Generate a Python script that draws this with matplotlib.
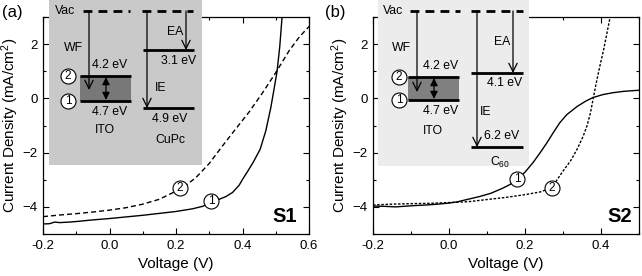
import numpy as np
import matplotlib
matplotlib.use('Agg')
import matplotlib.pyplot as plt

plt.rcParams['font.family'] = ['Liberation Sans', 'DejaVu Sans']
plt.rcParams['mathtext.fontset'] = 'custom'
plt.rcParams['mathtext.rm'] = 'Liberation Sans'
plt.rcParams['mathtext.it'] = 'Liberation Sans:italic'

# S1 (CuPc) J-V curves
s1_v1 = [-0.2, -0.18, -0.165, -0.15, -0.12, -0.1, -0.05, 0.0, 0.05, 0.1, 0.15, 0.2, 0.25, 0.28,
         0.305, 0.33, 0.35, 0.37, 0.39, 0.40, 0.415, 0.432, 0.453, 0.47, 0.485, 0.495, 0.504,
         0.512, 0.519, 0.525]
s1_j1 = [-4.63, -4.62, -4.56, -4.58, -4.56, -4.54, -4.48, -4.43, -4.37, -4.31, -4.24, -4.17, -4.07, -3.98,
         -3.85, -3.72, -3.62, -3.47, -3.2, -2.99, -2.7, -2.36, -1.88, -1.2, -0.35, 0.35, 1.0,
         1.9, 3.0, 3.8]
s1_v2 = [-0.2, -0.15, -0.1, -0.05, 0.0, 0.05, 0.1, 0.15, 0.2, 0.23, 0.26, 0.3, 0.34, 0.38,
         0.42, 0.46, 0.5, 0.54, 0.57, 0.6]
s1_j2 = [-4.36, -4.3, -4.25, -4.19, -4.12, -4.03, -3.9, -3.72, -3.42, -3.2, -2.92, -2.4, -1.75, -1.12,
         -0.5, 0.2, 0.95, 1.75, 2.25, 2.65]

# S2 (C60) J-V curves
s2_v1 = [-0.2, -0.17, -0.14, -0.1, -0.06, -0.03, 0.0, 0.02, 0.05, 0.08, 0.11, 0.14, 0.16, 0.18,
         0.2, 0.221, 0.24, 0.258, 0.275, 0.292, 0.31, 0.337, 0.36, 0.379, 0.405, 0.432, 0.46, 0.5]
s2_j1 = [-3.97, -3.98, -4.0, -3.96, -3.93, -3.9, -3.86, -3.82, -3.72, -3.62, -3.5, -3.32, -3.18, -2.98,
         -2.72, -2.37, -2.0, -1.63, -1.25, -0.89, -0.6, -0.3, -0.1, 0.03, 0.14, 0.21, 0.26, 0.3]
s2_v2 = [-0.2, -0.15, -0.1, -0.05, 0.0, 0.05, 0.1, 0.15, 0.2, 0.24, 0.27, 0.297, 0.32, 0.337,
         0.353, 0.363, 0.372, 0.379, 0.388, 0.397, 0.407, 0.416, 0.424, 0.43]
s2_j2 = [-3.93, -3.9, -3.88, -3.87, -3.84, -3.81, -3.73, -3.65, -3.55, -3.45, -3.3, -2.74, -2.3, -1.88,
         -1.4, -1.02, -0.55, -0.04, 0.6, 1.19, 1.8, 2.43, 3.0, 3.4]

# curve label circles (on the curves)
s1_marks = [(0.305, -3.80, '1'), (0.212, -3.32, '2')]
s2_marks = [(0.18, -2.98, '1'), (0.27, -3.30, '2')]

# energy level labels
s1_levels = ['4.2 eV', '4.7 eV', '3.1 eV', '4.9 eV']
s2_levels = ['4.2 eV', '4.7 eV', '4.1 eV', '6.2 eV']

W, H = 642, 276
fig = plt.figure(figsize=(W / 100, H / 100), dpi=100)


def px_axes(x0, x1, y0, y1):
    return fig.add_axes([x0 / W, 1 - y1 / H, (x1 - x0) / W, (y1 - y0) / H])


def style_main(ax, xmax):
    ax.set_ylim(-5, 3)
    ax.set_xlim(-0.2, xmax)
    ax.set_xticks(np.arange(-0.2, xmax + 0.01, 0.2))
    ax.set_xticks(np.arange(-0.2, xmax + 0.01, 0.1), minor=True)
    ax.set_yticks([-4, -2, 0, 2])
    ax.set_yticks(np.arange(-5, 3.1, 1), minor=True)
    ax.set_xticklabels([f'{t:.1f}' for t in np.arange(-0.2, xmax + 0.01, 0.2)])
    ax.tick_params(which='both', direction='in', top=True, right=True, labelsize=9.5, pad=4)
    ax.tick_params(which='major', length=4, width=0.8)
    ax.tick_params(which='minor', length=2.5, width=0.8)
    for s in ax.spines.values():
        s.set_linewidth(0.9)
    ax.set_xlabel('Voltage (V)', fontsize=11, labelpad=4)
    ax.set_ylabel('Current Density (mA/cm$^2$)', fontsize=11)
    ax.yaxis.set_label_coords(-22 / 266, 0.5)


def mark(ax, x, y, t):
    ax.plot(x, y, 'o', ms=10.8, mfc='white', mec='black', mew=0.8, zorder=4, clip_on=False)
    ax.text(x, y, t, ha='center', va='center', fontsize=8.5, zorder=5)


ax1 = px_axes(43, 309, 17, 234)
ax1.plot(s1_v1, s1_j1, color='black', lw=1.0)
ax1.plot(s1_v2, s1_j2, color='black', lw=1.0, dashes=(3.6, 2.2))
for x, y, t in s1_marks:
    mark(ax1, x, y, t)
style_main(ax1, 0.6)
ax1.text(0.955, 0.08, 'S1', transform=ax1.transAxes, ha='right', va='center',
         fontsize=14.5, fontweight='bold')

ax2 = px_axes(373, 639, 17, 234)
ax2.plot(s2_v1, s2_j1, color='black', lw=1.0)
ax2.plot(s2_v2, s2_j2, color='black', lw=1.0, dashes=(1.8, 1.2))
for x, y, t in s2_marks:
    mark(ax2, x, y, t)
style_main(ax2, 0.5)
ax2.text(0.975, 0.08, 'S2', transform=ax2.transAxes, ha='right', va='center',
         fontsize=14.5, fontweight='bold')

fig.text(2 / W, 1 - 13 / H, '(a)', fontsize=12, ha='left', va='center')
fig.text(325 / W, 1 - 13 / H, '(b)', fontsize=12, ha='left', va='center')


def arrow(ax, x, y0, y1, style='->'):
    ax.annotate('', xy=(x, y1), xytext=(x, y0),
                arrowprops=dict(arrowstyle=style + ',head_length=0.6,head_width=0.3',
                                lw=0.9, color='black', shrinkA=0, shrinkB=0))


def inset(x0, x1, color, band_color, vac_l, vac_r, ito, org, texts, levels, name):
    ia = px_axes(x0, x1, 0, 166 if x1 > 500 else 165)
    ia.set_xlim(0, x1 - x0)
    ia.set_ylim(166 if x1 > 500 else 165, 0)
    ia.set_facecolor(color)
    ia.set_xticks([])
    ia.set_yticks([])
    for s in ia.spines.values():
        s.set_visible(False)
    ia.set_zorder(10)
    fs = 8.8
    ia.text(texts['vac'][0], 11, 'Vac', fontsize=fs, ha='left', va='center')
    for a, b in (vac_l, vac_r):
        ia.plot([a, b], [11, 11], color='black', lw=2.0, dashes=(3.2, 2.2), solid_capstyle='butt')
    # ITO band
    bx0, bx1, by0, by1 = ito['band']
    ia.add_patch(plt.Rectangle((bx0, by0), bx1 - bx0, by1 - by0, fc=band_color, ec='none'))
    ia.plot([bx0, bx1], [by0, by0], color='black', lw=2.0, solid_capstyle='butt')
    ia.plot([bx0, bx1], [by1, by1], color='black', lw=2.0, solid_capstyle='butt')
    arrow(ia, ito['wf_x'], 11, ito['wf_end'])
    ia.annotate('', xy=(ito['dbl_x'], by1 - 1), xytext=(ito['dbl_x'], by0 + 1),
                arrowprops=dict(arrowstyle='<|-|>,head_length=0.45,head_width=0.22',
                                lw=0.9, color='black', shrinkA=0, shrinkB=0))
    for yy, t in ((by0, '2'), (by1, '1')):
        ia.plot(ito['circ_x'], yy, 'o', ms=10.8, mfc='white', mec='black', mew=0.8, zorder=4)
        ia.text(ito['circ_x'], yy, t, ha='center', va='center', fontsize=8.5, zorder=5)
    ia.text(texts['wf'][0], texts['wf'][1], 'WF', fontsize=fs, ha='center', va='center')
    ia.text(ito['lab_x'], by0 - 11, levels[0], fontsize=fs, ha='center', va='center')
    ia.text(ito['lab_x'], by1 + 11, levels[1], fontsize=fs, ha='center', va='center')
    ia.text(ito['ito'][0], ito['ito'][1], 'ITO', fontsize=fs, ha='center', va='center')
    # organic levels
    ox0, ox1 = org['x']
    for yy in (org['lumo'], org['homo']):
        ia.plot([ox0, ox1], [yy, yy], color='black', lw=2.0, solid_capstyle='butt')
    arrow(ia, org['ea_x'], 11, org['lumo'])
    arrow(ia, org['ie_x'], 11, org['homo'])
    ia.text(*org['ea_t'], 'EA', fontsize=fs, ha='center', va='center')
    ia.text(*org['ie_t'], 'IE', fontsize=fs, ha='left', va='center')
    ia.text(*org['lumo_t'], levels[2], fontsize=fs, ha='center', va='center')
    ia.text(*org['homo_t'], levels[3], fontsize=fs, ha='center', va='center')
    ia.text(*org['name_t'], name, fontsize=fs, ha='center', va='center')


inset(49, 202, '#c9c9c9', '#787878', (34, 81), (93, 144),
      dict(band=(31, 82, 76, 101), wf_x=40, wf_end=90, dbl_x=57, circ_x=19,
           lab_x=61, ito=(56, 130)),
      dict(x=(94, 145), lumo=50, homo=108, ea_x=137, ie_x=98, ea_t=(126, 32),
           ie_t=(106, 88), lumo_t=(130, 61), homo_t=(121, 119), name_t=(121, 140)),
      dict(vac=(6,), wf=(24, 48)), s1_levels, 'CuPc')

inset(378, 529, '#ececec', '#808080', (32, 82), (93, 145),
      dict(band=(30, 81, 77, 100), wf_x=39, wf_end=92, dbl_x=56, circ_x=21,
           lab_x=63, ito=(55, 131)),
      dict(x=(93, 145), lumo=73, homo=147, ea_x=135, ie_x=99, ea_t=(124, 42),
           ie_t=(102, 112), lumo_t=(127, 83), homo_t=(124, 136), name_t=(122, 162)),
      dict(vac=(5,), wf=(24, 48)), s2_levels, 'C$_{60}$')

fig.savefig('out.png', dpi=100)
